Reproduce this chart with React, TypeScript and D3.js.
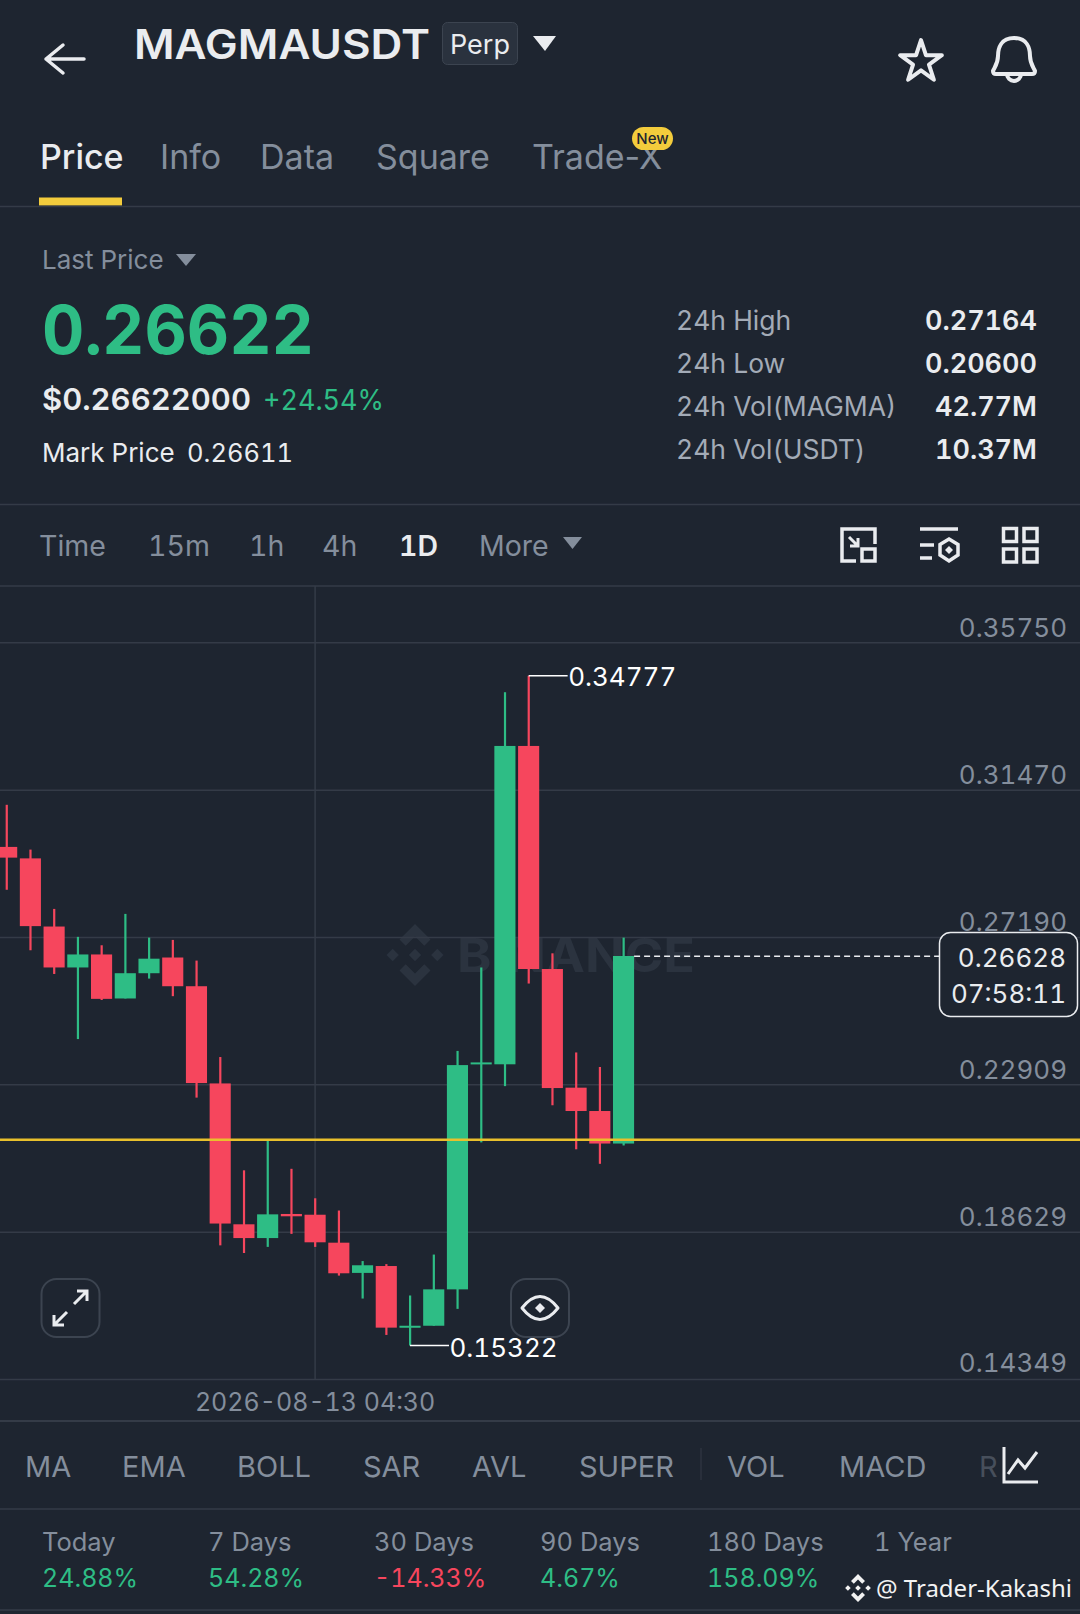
import * as d3 from 'd3';
import { useEffect, useRef } from 'react';

const opens = [0.29806, 0.29473, 0.27493, 0.26304, 0.26682, 0.25403, 0.26137, 0.26593, 0.25759, 0.22935, 0.18843, 0.18443, 0.19143, 0.19121, 0.18309, 0.17431, 0.17631, 0.15841, 0.15896, 0.16953, 0.23491, 0.23491, 0.32739, 0.26259, 0.22812, 0.22134, 0.21189];
const closes = [0.29495, 0.27505, 0.26304, 0.26682, 0.25392, 0.26137, 0.26559, 0.25759, 0.22946, 0.18865, 0.18443, 0.19132, 0.19076, 0.1832, 0.1742, 0.17653, 0.15841, 0.15896, 0.16953, 0.23468, 0.23546, 0.32739, 0.26259, 0.22801, 0.22134, 0.21189, 0.26637];
const highs = [0.31029, 0.29728, 0.28005, 0.27193, 0.26949, 0.2786, 0.27171, 0.27104, 0.26504, 0.23702, 0.20411, 0.213, 0.20455, 0.19599, 0.19243, 0.17775, 0.17686, 0.16775, 0.17964, 0.2388, 0.26304, 0.343, 0.34777, 0.26715, 0.23835, 0.23413, 0.27171];
const lows = [0.28561, 0.26804, 0.26115, 0.24224, 0.25359, 0.25403, 0.25981, 0.2547, 0.22523, 0.18231, 0.18009, 0.18187, 0.18565, 0.18187, 0.17353, 0.16686, 0.15629, 0.15322, 0.15896, 0.16386, 0.21222, 0.22857, 0.25837, 0.22301, 0.21022, 0.206, 0.21133];

const priceTicks = [0.3575, 0.3147, 0.2719, 0.22909, 0.18629, 0.14349];
const levelPrice = 0.213;
const lastPrice = 0.26628;
const crosshairDay = 13;
const crosshairLabel = '2026-08-13 04:30';

const tabs = ['Price', 'Info', 'Data', 'Square', 'Trade-X'];
const statLabels = ['24h High', '24h Low', '24h Vol(MAGMA)', '24h Vol(USDT)'];
const statValues = ['0.27164', '0.20600', '42.77M', '10.37M'];
const intervals = ['Time', '15m', '1h', '4h', '1D', 'More'];
const indicators = ['MA', 'EMA', 'BOLL', 'SAR', 'AVL', 'SUPER', 'VOL', 'MACD', 'R'];
const periods = ['Today', '7 Days', '30 Days', '90 Days', '180 Days', '1 Year'];
const periodChanges = ['24.88%', '54.28%', '-14.33%', '4.67%', '158.09%', ''];

const tabX = [40, 160, 260, 376, 532];
const statY = [330, 372.5, 416, 459];
const intervalX = [39, 148, 249, 322, 399, 479];
const indicatorX = [25, 122, 237, 363, 472, 579, 727, 839, 979];
const periodX = [42, 208, 374, 540, 707, 874];

const BG = '#1e2530';
const GRID = '#343b47';
const GREEN = '#2ebd85';
const RED = '#f6465d';
const GREY = '#848e9c';
const LIGHT = '#eaecef';
const YELLOW = '#f3cc3c';
const FONT = 'Inter, "Noto Sans", sans-serif';

const chartTop = 586;
const chartBottom = 1379;

const yScale = d3.scaleLinear([0.14349, 0.3575], [chartBottom, 642.3]);
const xScale = d3
  .scaleBand<number>(d3.range(opens.length), [-3.9, 634.1])
  .paddingInner(0.11);
const centre = (i: number) => (xScale(i) ?? 0) + xScale.bandwidth() / 2;

const starPath = d3.symbol(d3.symbolStar, 540)() ?? '';

function Logo({ x, y, r, fill }: { x: number; y: number; r: number; fill: string }) {
  const diamond = (dx: number) => `M${dx - 0.2} 0L${dx} -0.2L${dx + 0.2} 0L${dx} 0.2Z`;
  return (
    <g transform={`translate(${x},${y}) scale(${r})`} fill={fill}>
      <path d={diamond(0)} />
      <path d={diamond(-0.72)} />
      <path d={diamond(0.72)} />
      <path d="M0 -1L0.5 -0.5L0.3 -0.3L0 -0.6L-0.3 -0.3L-0.5 -0.5Z" />
      <path d="M0 1L0.5 0.5L0.3 0.3L0 0.6L-0.3 0.3L-0.5 0.5Z" />
    </g>
  );
}

export default function App() {
  const ref = useRef<SVGGElement>(null);

  useEffect(() => {
    const element = d3.select(ref.current);
    element.selectAll('*').remove();

    const YAxis = d3
      .axisRight(yScale)
      .tickValues(priceTicks)
      .tickSize(1080)
      .tickFormat(d3.format('.5f') as any);

    element
      .append('g')
      .call(YAxis)
      .call((g) => g.select('.domain').remove())
      .call((g) => g.selectAll('.tick line').attr('stroke', GRID).attr('stroke-width', 1.5))
      .call((g) =>
        g
          .selectAll('.tick text')
          .attr('x', 1067)
          .attr('dy', (d) => (d === 0.14349 ? -8 : -6))
          .attr('text-anchor', 'end')
          .attr('fill', GREY)
          .attr('font-family', FONT)
          .attr('font-size', 26)
      );

    const XAxis = d3
      .axisBottom(xScale)
      .tickValues([crosshairDay])
      .tickSize(chartTop - chartBottom)
      .tickFormat(() => crosshairLabel);

    element
      .append('g')
      .attr('transform', `translate(0, ${chartBottom})`)
      .call(XAxis)
      .call((g) => g.select('.domain').remove())
      .call((g) => g.selectAll('.tick line').attr('stroke', GRID).attr('stroke-width', 1.5))
      .call((g) =>
        g
          .selectAll('.tick text')
          .attr('y', 32)
          .attr('dy', 0)
          .attr('fill', GREY)
          .attr('font-family', FONT)
          .attr('font-size', 25)
      );

    const candles = element
      .append('g')
      .selectAll('g')
      .data(d3.range(opens.length))
      .join('g')
      .attr('fill', (i) => (closes[i] >= opens[i] ? GREEN : RED));

    candles
      .append('rect')
      .attr('x', (i) => centre(i) - 1)
      .attr('width', 2.2)
      .attr('y', (i) => yScale(highs[i]))
      .attr('height', (i) => yScale(lows[i]) - yScale(highs[i]));

    candles
      .append('rect')
      .attr('x', (i) => xScale(i) ?? 0)
      .attr('width', xScale.bandwidth())
      .attr('y', (i) => yScale(Math.max(opens[i], closes[i])))
      .attr('height', (i) => Math.max(2, Math.abs(yScale(opens[i]) - yScale(closes[i]))));

    element
      .append('line')
      .attr('x1', 0)
      .attr('x2', 1080)
      .attr('y1', yScale(levelPrice))
      .attr('y2', yScale(levelPrice))
      .attr('stroke', '#e9c02c')
      .attr('stroke-width', 2.6);

    element
      .append('line')
      .attr('x1', centre(opens.length - 1) + xScale.bandwidth() / 2)
      .attr('x2', 939)
      .attr('y1', yScale(lastPrice))
      .attr('y2', yScale(lastPrice))
      .attr('stroke', LIGHT)
      .attr('stroke-width', 1.5)
      .attr('stroke-dasharray', '6 4');

    const highIdx = d3.maxIndex(highs);
    const lowIdx = d3.minIndex(lows);
    const extremes = [
      { i: highIdx, v: highs[highIdx], dy: 10 },
      { i: lowIdx, v: lows[lowIdx], dy: 11 },
    ];
    extremes.forEach(({ i, v, dy }) => {
      element
        .append('line')
        .attr('x1', centre(i))
        .attr('x2', centre(i) + 39)
        .attr('y1', yScale(v))
        .attr('y2', yScale(v))
        .attr('stroke', '#ffffff')
        .attr('stroke-width', 1.5);
      element
        .append('text')
        .attr('x', centre(i) + 39.5)
        .attr('y', yScale(v) + dy)
        .attr('fill', '#ffffff')
        .attr('font-family', FONT)
        .attr('font-size', 26)
        .text(d3.format('.5f')(v));
    });
  }, []);

  return (
    <svg
      width={1080}
      height={1614}
      viewBox="0 0 1080 1614"
      style={{ position: 'absolute', left: 0, top: 0, display: 'block', fontVariantNumeric: 'tabular-nums' }}
      fontFamily={FONT}
    >
      <rect width={1080} height={1614} fill={BG} />

      {/* header */}
      <path d="M84 59H46M63 45L46 59L63 73" fill="none" stroke={LIGHT} strokeWidth={3.5} strokeLinecap="round" strokeLinejoin="round" />
      <text x={134} y={59} fill={LIGHT} fontSize={41} fontWeight={600} textLength={296} lengthAdjust="spacingAndGlyphs">MAGMAUSDT</text>
      <rect x={442.5} y={22.5} width={75} height={42} rx={5} fill="#2a323e" stroke="#3c4450" />
      <text x={450} y={54} fill={LIGHT} fontSize={27}>Perp</text>
      <path d="M533 36H556L545 51Z" fill={LIGHT} />
      <path d={starPath} transform="translate(921,62)" fill="none" stroke={LIGHT} strokeWidth={4} strokeLinejoin="round" />
      <path
        d="M1014 38C1001 38 998 48 998 56C998 64 994 68 993 71C993 73 994 74 996 74L1032 74C1034 74 1035 73 1035 71C1034 68 1030 64 1030 56C1030 48 1027 38 1014 38ZM1007 74a7 7 0 0 0 14 0"
        fill="none"
        stroke={LIGHT}
        strokeWidth={4}
        strokeLinejoin="round"
      />

      {/* tabs */}
      {tabs.map((t, i) => (
        <text key={t} x={tabX[i]} y={169} fill={i === 0 ? LIGHT : GREY} fontSize={34} fontWeight={i === 0 ? 500 : 400} style={{ fontVariantNumeric: 'normal' }}>{t}</text>
      ))}
      <rect x={632} y={127} width={41} height={23} rx={11.5} fill={YELLOW} />
      <text x={652.5} y={144} fill="#1e2530" fontSize={15} fontWeight={500} textAnchor="middle">New</text>
      <rect x={39} y={197.5} width={83} height={8} fill={YELLOW} />
      <line x1={0} x2={1080} y1={206.5} y2={206.5} stroke={GRID} strokeWidth={1.5} />

      {/* price block */}
      <text x={42} y={269} fill={GREY} fontSize={26}>Last Price</text>
      <path d="M176 254H196L186 266Z" fill={GREY} />
      <text x={42} y={354} fill={GREEN} fontSize={67} fontWeight={700} textLength={272} lengthAdjust="spacingAndGlyphs">0.26622</text>
      <text x={42} y={410} fill={LIGHT} fontSize={30} fontWeight={600} textLength={209} lengthAdjust="spacingAndGlyphs">$0.26622000</text>
      <text x={263} y={410} fill={GREEN} fontSize={28} textLength={121} lengthAdjust="spacingAndGlyphs">+24.54%</text>
      <text x={42} y={462} fill={LIGHT} fontSize={26}>Mark Price</text>
      <text x={187} y={462} fill={LIGHT} fontSize={25.5}>0.26611</text>
      {statLabels.map((t, i) => (
        <text key={t} x={676} y={statY[i]} fill="#a3abb7" fontSize={26.5}>{t}</text>
      ))}
      {statValues.map((t, i) => (
        <text key={t} x={1037} y={statY[i]} fill={LIGHT} fontSize={27} fontWeight={600} textAnchor="end">{t}</text>
      ))}
      <line x1={0} x2={1080} y1={504.5} y2={504.5} stroke={GRID} strokeWidth={1.5} />

      {/* interval toolbar */}
      {intervals.map((t, i) => (
        <text key={t} x={intervalX[i]} y={556} fill={t === '1D' ? LIGHT : GREY} fontSize={28.5} fontWeight={t === '1D' ? 600 : 400}>{t}</text>
      ))}
      <path d="M563 537H582L572.5 549Z" fill={GREY} />
      <g fill="none" stroke={LIGHT} strokeWidth={3.5}>
        <path d="M875 544V529H842V561H856" />
        <rect x={862} y={549} width={13} height={12} />
        <path d="M849 537L858 546M858 538V546H850" strokeWidth={3} />
        <path d="M920 529H958M920 545H934M920 558H932" />
        <path d="M949 539L958 544.5V555L949 561L940 555V544.5Z" />
        <path d="M949 546L953 550L949 554L945 550Z" fill={LIGHT} stroke="none" />
        <rect x={1003.5} y={528.5} width={13} height={13} />
        <rect x={1024} y={528.5} width={13} height={13} />
        <rect x={1003.5} y={549} width={13} height={13} />
        <rect x={1024} y={549} width={13} height={13} />
      </g>
      <line x1={0} x2={1080} y1={586} y2={586} stroke={GRID} strokeWidth={1.5} />

      {/* chart */}
      <Logo x={415} y={955} r={31} fill="#2b333f" />
      <text x={457} y={972} fill="#2b333f" fontSize={46} fontWeight={700} textLength={238} lengthAdjust="spacingAndGlyphs">BINANCE</text>
      <g ref={ref} />

      <rect x={939.5} y={932.5} width={138} height={84} rx={11} fill={BG} stroke={LIGHT} strokeWidth={1.5} />
      <text x={1066} y={967} fill={LIGHT} fontSize={26} textAnchor="end">0.26628</text>
      <text x={1066} y={1003} fill={LIGHT} fontSize={26} textAnchor="end">07:58:11</text>

      <rect x={41.5} y={1279} width={58} height={58} rx={15} fill="none" stroke="#3c4450" strokeWidth={2} />
      <path d="M74 1304L87 1291M77 1291H87V1301M67 1312L54 1325M54 1315V1325H64" fill="none" stroke={LIGHT} strokeWidth={3} />
      <rect x={511} y={1279} width={58} height={58} rx={15} fill="none" stroke="#3c4450" strokeWidth={2} />
      <path d="M522 1308Q540 1285 558 1308Q540 1331 522 1308Z" fill="none" stroke={LIGHT} strokeWidth={3} strokeLinejoin="round" />
      <path d="M540 1303L545 1308L540 1313L535 1308Z" fill={LIGHT} />

      {/* indicators */}
      <line x1={0} x2={1080} y1={1421} y2={1421} stroke={GRID} strokeWidth={2} />
      {indicators.map((t, i) => (
        <text key={t} x={indicatorX[i]} y={1477} fill={GREY} fontSize={29} opacity={t === 'R' ? 0.4 : 1}>{t}</text>
      ))}
      <line x1={701} x2={701} y1={1448} y2={1480} stroke={GRID} />
      <path d="M1004 1447V1482H1038M1008 1474L1018 1460L1025 1468L1037 1452" fill="none" stroke={LIGHT} strokeWidth={3} />
      <line x1={0} x2={1080} y1={1509} y2={1509} stroke={GRID} strokeWidth={1.5} />

      {/* period changes */}
      {periods.map((t, i) => (
        <text key={t} x={periodX[i]} y={1551} fill={GREY} fontSize={25.5}>{t}</text>
      ))}
      {periodChanges.map((t, i) => (
        <text key={i} x={periodX[i]} y={1587} fill={t.startsWith('-') ? RED : GREEN} fontSize={25}>{t}</text>
      ))}
      <line x1={0} x2={1080} y1={1610} y2={1610} stroke={GRID} strokeWidth={1.5} />

      {/* watermark */}
      <Logo x={858} y={1588} r={14} fill="#f2f2f2" />
      <text x={876} y={1597} fill="#f2f2f2" fontSize={24} fontFamily='"Noto Sans", sans-serif'>@ Trader-Kakashi</text>
    </svg>
  );
}
